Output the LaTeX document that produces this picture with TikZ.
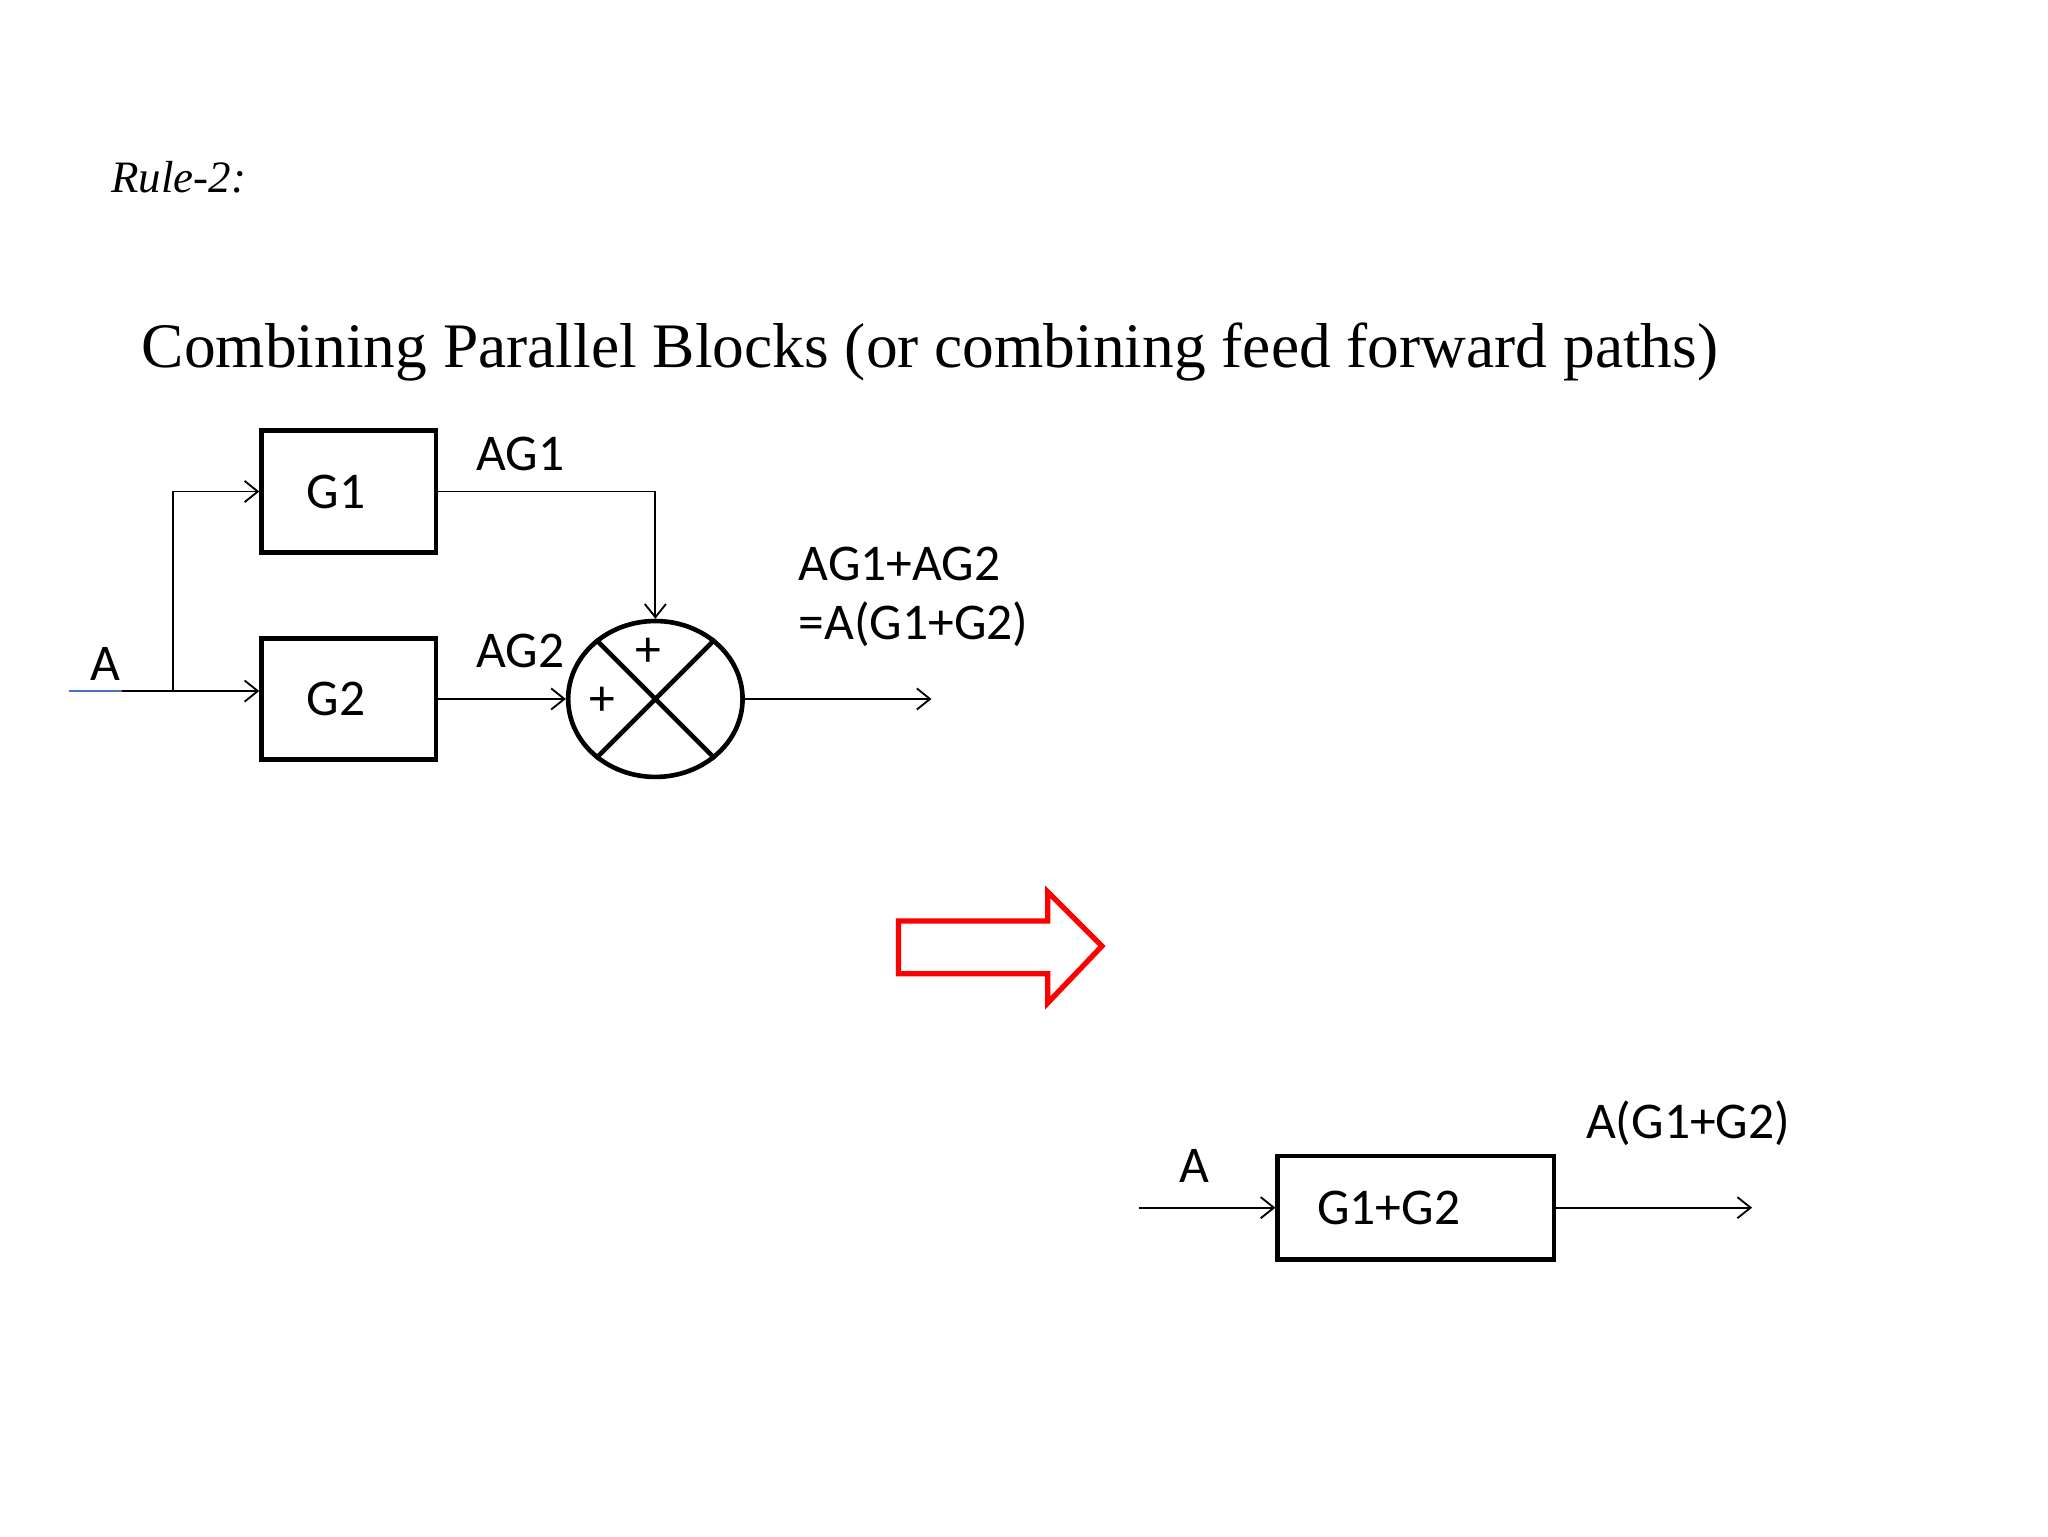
\documentclass[tikz,border=0pt]{standalone}
\usepackage{fontspec}
\setmainfont{Liberation Serif}
\newfontfamily\lab{Carlito}
\usetikzlibrary{arrows.meta,shapes.geometric}
\definecolor{oblue}{RGB}{68,114,196}
\begin{document}
\begin{tikzpicture}[x=0.5pt,y=-0.5pt,
  blk/.style={draw,line width=1.75pt,inner ysep=0pt,align=left,minimum height=46pt,font=\lab\fontsize{19.5}{23}\selectfont},
  lbl/.style={font=\lab\fontsize{19.5}{23}\selectfont,inner sep=0pt,anchor=base west},
  sig/.style={line width=0.7pt,-{Straight Barb[length=5pt,width=8pt]}},
  wire/.style={line width=0.7pt}]
\useasboundingbox (0,0) rectangle (1550,1162.5);
% headings
\node[font=\itshape\fontsize{17}{20}\selectfont,anchor=base west,inner sep=0pt] (rule) at (84,146) {Rule-2:};
\node[font=\fontsize{24}{29}\selectfont,anchor=base west,inner sep=0pt] (title) at (107,278) {Combining Parallel Blocks (or combining feed forward paths)};
% upper diagram
\node[blk,inner xsep=17pt,text width=32pt] (g1) at (264,372) {G1};
\node[blk,inner xsep=17pt,text width=32pt] (g2) at (264,529) {G2};
\node[draw,ellipse,line width=1.75pt,minimum width=66pt,minimum height=59pt,inner sep=0pt] (sum) at (496,529) {};
\draw[line width=1.75pt] (sum.45) -- (sum.225) (sum.135) -- (sum.315);
\node[lbl,anchor=center] (p1) at (491,494) {+};
\node[lbl,anchor=center] (p2) at (456,531) {+};
\coordinate (ablue) at (52,523);
\coordinate (a0) at (92,523);
\coordinate (split) at (131,523);
\coordinate (out1) at (705,529);
\draw[wire,oblue] (ablue) -- (a0);
\draw[sig] (a0) -- (g2.west |- a0);
\draw[sig] (split) |- (g1.west);
\draw[sig] (g1.east) -| (sum.north);
\draw[sig] (g2.east) -- (sum.west);
\draw[sig] (sum.east) -- (out1);
\node[lbl] (la) at (68,515) {A};
\node[lbl] (lag1) at (360,356) {AG1};
\node[lbl] (lag2) at (360,505) {AG2};
\node[lbl] (lsum1) at (604,439) {AG1+AG2};
\node[lbl] (lsum2) at (604,484) {=A(G1+G2)};
% red block arrow
\draw[red,line width=2pt,line join=miter] (680,697) -- (793,697) -- (793,675) -- (834,716) -- (793,759) -- (793,737) -- (680,737) -- cycle;
% lower diagram
\node[blk,inner xsep=15pt,text width=74.5pt,minimum height=39pt] (g12) at (1071.5,914) {G1+G2};
\coordinate (bin) at (862,914);
\coordinate (bout) at (1326,914);
\draw[sig] (bin) -- (g12.west);
\draw[sig] (g12.east) -- (bout);
\node[lbl] (lb) at (892,895) {A};
\node[lbl] (lbo) at (1200,862) {A(G1+G2)};
\end{tikzpicture}
\end{document}
